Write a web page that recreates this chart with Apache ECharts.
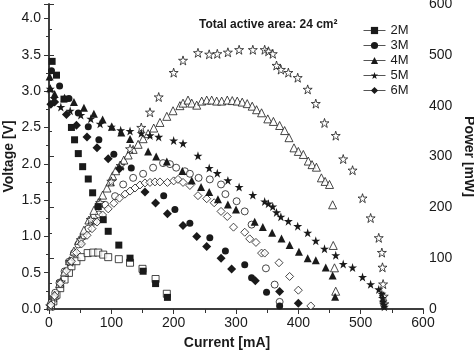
<!DOCTYPE html>
<html>
<head>
<meta charset="utf-8">
<script src="https://cdn.jsdelivr.net/npm/echarts@6/dist/echarts.min.js"></script>
<style>
  html, body { margin: 0; padding: 0; background: #fff; }
  #main { width: 474px; height: 351px; }
</style>
</head>
<body>
<div id="main"></div>
<script>
/********************** data *********************************************/
// voltage (filled markers), current in mA, voltage in V
var cur2M = [5, 12, 24, 36, 41, 47, 54, 63, 70, 79, 87, 95, 112, 130, 151, 171, 190];
var volt2M = [3.41, 3.22, 2.89, 2.50, 2.33, 2.14, 1.96, 1.79, 1.60, 1.41, 1.23, 1.07, 0.88, 0.70, 0.52, 0.35, 0.16];
var cur3M = [4, 17, 32, 47, 63, 80, 104, 132, 184, 202, 226, 258, 283, 314, 325, 349, 370];
var volt3M = [3.28, 3.07, 2.90, 2.70, 2.51, 2.33, 2.13, 1.94, 1.56, 1.37, 1.18, 0.98, 0.80, 0.61, 0.43, 0.23, 0.04];
var cur4M = [1, 2, 9, 25, 40, 56, 72, 86, 101, 116, 130, 159, 172, 189, 214, 229, 244, 257, 271, 287, 300, 330, 343, 358, 373, 386, 401, 415, 428, 444, 455, 459];
var volt4M = [3.20, 3.04, 2.96, 2.91, 2.85, 2.77, 2.69, 2.61, 2.51, 2.43, 2.34, 2.17, 2.10, 2.03, 1.90, 1.77, 1.68, 1.61, 1.51, 1.44, 1.37, 1.20, 1.13, 1.05, 0.97, 0.88, 0.79, 0.70, 0.67, 0.57, 0.46, 0.17];
var cur5M = [2, 8, 19, 34, 51, 67, 82, 100, 115, 130, 148, 162, 176, 200, 215, 239, 257, 270, 287, 305, 327, 346, 352, 359, 365, 372, 384, 399, 415, 428, 442, 460, 472, 487, 503, 516, 529, 534, 535, 536, 537, 538];
var volt5M = [3.03, 2.90, 2.78, 2.73, 2.67, 2.62, 2.55, 2.51, 2.46, 2.45, 2.42, 2.39, 2.37, 2.32, 2.28, 2.11, 1.94, 1.87, 1.77, 1.68, 1.57, 1.48, 1.45, 1.41, 1.33, 1.27, 1.21, 1.14, 1.05, 0.94, 0.83, 0.74, 0.62, 0.57, 0.44, 0.34, 0.27, 0.21, 0.15, 0.10, 0.06, 0.03];
var cur6M = [3, 9, 28, 44, 61, 77, 95, 113, 154, 171, 190, 215, 237, 253, 276, 293, 331, 370, 400];
var volt6M = [2.82, 2.85, 2.68, 2.53, 2.37, 2.22, 2.07, 1.93, 1.61, 1.46, 1.31, 1.15, 1.00, 0.86, 0.70, 0.55, 0.39, 0.24, 0.08];

// power (open markers), current in mA, power in mW
var pCur2M = [3, 7, 12, 18, 25, 32, 36, 44, 52, 62, 71, 79, 87, 95, 112, 130, 150, 171, 189];
var pow2M = [5, 15, 28, 41, 58, 71, 84, 94, 102, 110, 111, 111, 107, 102, 98, 91, 79, 59, 30];
var pCur3M = [4, 10, 17, 25, 32, 40, 47, 55, 63, 72, 80, 90, 106, 119, 135, 151, 167, 183, 194, 204, 218, 226, 240, 258, 276, 283, 301, 314, 325, 348, 362, 370];
var pow3M = [13, 32, 52, 74, 93, 110, 127, 143, 158, 172, 186, 205, 222, 245, 258, 266, 278, 287, 285, 278, 271, 266, 258, 255, 245, 226, 212, 192, 166, 80, 48, 14];
var pCur4M = [3, 9, 17, 25, 33, 40, 48, 56, 64, 72, 79, 86, 93, 98, 102, 107, 114, 120, 127, 135, 143, 151, 159, 168, 178, 189, 199, 210, 215, 223, 229, 237, 245, 253, 261, 269, 277, 286, 294, 302, 310, 318, 326, 333, 341, 351, 360, 370, 378, 385, 393, 400, 408, 416, 422, 429, 437, 443, 450, 455, 456, 458, 460];
var pow4M = [9, 27, 50, 73, 95, 114, 135, 155, 175, 194, 209, 224, 238, 250, 262, 272, 283, 293, 303, 314, 324, 335, 345, 356, 367, 379, 390, 400, 405, 411, 405, 401, 409, 411, 411, 409, 409, 411, 410, 409, 407, 404, 399, 392, 386, 374, 369, 361, 351, 337, 317, 310, 304, 291, 284, 279, 258, 251, 245, 205, 125, 81, 35];
var pCur5M = [2, 8, 19, 34, 51, 67, 82, 100, 115, 130, 148, 162, 176, 200, 215, 239, 257, 270, 287, 305, 327, 346, 352, 359, 365, 372, 384, 399, 415, 428, 442, 460, 472, 487, 503, 516, 529, 534, 535, 536, 537, 538];
var pow5M = [6, 23, 53, 93, 136, 176, 209, 251, 282, 315, 357, 387, 417, 465, 489, 504, 501, 502, 505, 510, 510, 510, 507, 502, 479, 471, 465, 455, 432, 404, 366, 341, 295, 273, 218, 179, 140, 111, 82, 49, 25, 10];
var pCur6M = [3, 9, 18, 28, 36, 44, 52, 61, 69, 77, 86, 95, 104, 113, 122, 130, 138, 146, 154, 162, 170, 178, 190, 200, 207, 215, 226, 239, 253, 265, 276, 286, 296, 314, 322, 332, 341, 346, 369, 386, 400, 420];
var pow6M = [8, 26, 50, 75, 94, 111, 128, 145, 158, 171, 185, 197, 208, 218, 226, 232, 238, 244, 248, 249, 250, 250, 249, 252, 255, 249, 243, 223, 217, 209, 192, 182, 161, 151, 138, 131, 110, 110, 91, 64, 37, 6];

var legendNames = ['2M', '3M', '4M', '5M', '6M'];

/********************** chart ************************/
var FONT = 'Liberation Sans, Arial, sans-serif';
var INK = '#1a1a1a';
var STAR = 'path://M50,2 L61,36 L97,36 L68,57 L79,92 L50,71 L21,92 L32,57 L3,36 L39,36 Z';

function pairs(xs, ys) {
  return xs.map(function (x, i) { return [x, ys[i]]; });
}

var groups = [
  { name: '2M', symbol: 'rect', size: 7, hollow: 7, v: pairs(cur2M, volt2M), p: pairs(pCur2M, pow2M) },
  { name: '3M', symbol: 'circle', size: 7, hollow: 7, v: pairs(cur3M, volt3M), p: pairs(pCur3M, pow3M) },
  { name: '4M', symbol: 'triangle', size: 8, hollow: 8, v: pairs(cur4M, volt4M), p: pairs(pCur4M, pow4M) },
  { name: '5M', symbol: STAR, size: 9, hollow: 9, v: pairs(cur5M, volt5M), p: pairs(pCur5M, pow5M) },
  { name: '6M', symbol: 'diamond', size: 9, hollow: 8, v: pairs(cur6M, volt6M), p: pairs(pCur6M, pow6M) }
];

var series = [];
groups.forEach(function (g) {
  // power: open markers on the right axis
  series.push({
    name: g.name + ' power',
    type: 'scatter',
    xAxisIndex: 0,
    yAxisIndex: 1,
    symbol: g.symbol,
    symbolSize: g.hollow,
    itemStyle: { color: '#fff', borderColor: INK, borderWidth: 1 },
    data: g.p,
    z: 2
  });
});
groups.forEach(function (g) {
  // voltage: filled markers, line hidden so the legend keeps its line icon
  series.push({
    name: g.name,
    type: 'line',
    xAxisIndex: 0,
    yAxisIndex: 0,
    symbol: g.symbol,
    symbolSize: g.size,
    showAllSymbol: true,
    lineStyle: { opacity: 0 },
    itemStyle: { color: INK },
    data: g.v,
    z: 3
  });
});

var myChart = echarts.init(document.getElementById('main'));
var option = {
  animation: false,
  textStyle: { fontFamily: FONT },
  title: {
    text: 'Total active area: 24 cm²',
    left: 194,
    top: 14,
    textStyle: { fontFamily: FONT, fontSize: 12, fontWeight: 'bold', color: INK }
  },
  legend: {
    data: legendNames,
    orient: 'vertical',
    left: 358,
    top: 19,
    itemWidth: 22,
    itemHeight: 9,
    itemGap: 2,
    textStyle: { fontFamily: FONT, fontSize: 13, color: INK },
    lineStyle: { color: '#555', width: 1, opacity: 1 }
  },
  grid: { left: 49, right: 51, top: 4, bottom: 42, containLabel: false, outerBoundsMode: 'none' },
  xAxis: [{
    type: 'value',
    position: 'bottom',
    min: 0,
    max: 600,
    interval: 100,
    name: 'Current [mA]',
    nameLocation: 'middle',
    nameGap: 27,
    nameTextStyle: { fontFamily: FONT, fontSize: 14, fontWeight: 'bold', color: INK, padding: [0, 18, 0, 0] },
    axisLine: { lineStyle: { color: '#333', width: 1.5 } },
    axisTick: { length: 5, lineStyle: { color: '#333' } },
    minorTick: { show: true, splitNumber: 2, length: 3, lineStyle: { color: '#333' } },
    axisLabel: { fontSize: 14, color: INK, margin: 7 },
    splitLine: { show: false }
  }, {
    type: 'value',
    position: 'top',
    min: 0,
    max: 600,
    interval: 50,
    axisLine: { lineStyle: { color: '#333', width: 1.5 } },
    axisTick: { inside: true, length: 4, lineStyle: { color: '#333' } },
    axisLabel: { show: false },
    splitLine: { show: false }
  }],
  yAxis: [{
    type: 'value',
    position: 'left',
    min: 0,
    max: 4.2,
    interval: 0.5,
    name: 'Voltage [V]',
    nameLocation: 'middle',
    nameGap: 33,
    nameRotate: 90,
    nameMoveOverlap: false,
    nameTextStyle: { fontFamily: FONT, fontSize: 14, fontWeight: 'bold', color: INK },
    axisLine: { show: true, lineStyle: { color: '#333', width: 1.5 } },
    axisTick: { show: true, length: 5, lineStyle: { color: '#333' } },
    minorTick: { show: true, splitNumber: 2, length: 3, lineStyle: { color: '#333' } },
    axisLabel: {
      fontSize: 14, color: INK, margin: 8, showMaxLabel: false,
      formatter: function (v) { return v.toFixed(1); }
    },
    splitLine: { show: false }
  }, {
    type: 'value',
    position: 'right',
    min: 0,
    max: 600,
    interval: 100,
    name: 'Power [mW]',
    nameLocation: 'middle',
    nameGap: 39,
    nameRotate: -90,
    nameMoveOverlap: false,
    nameTextStyle: { fontFamily: FONT, fontSize: 14, fontWeight: 'bold', color: INK },
    axisLine: { show: true, lineStyle: { color: '#333', width: 1.5 } },
    axisTick: { show: true, length: 5, lineStyle: { color: '#333' } },
    minorTick: { show: true, splitNumber: 2, length: 3, lineStyle: { color: '#333' } },
    axisLabel: { fontSize: 14, color: INK, margin: 6 },
    splitLine: { show: false }
  }],
  series: series
};
myChart.setOption(option);
window.addEventListener('resize', function () {
  myChart.resize();
});
</script>
</body>
</html>
